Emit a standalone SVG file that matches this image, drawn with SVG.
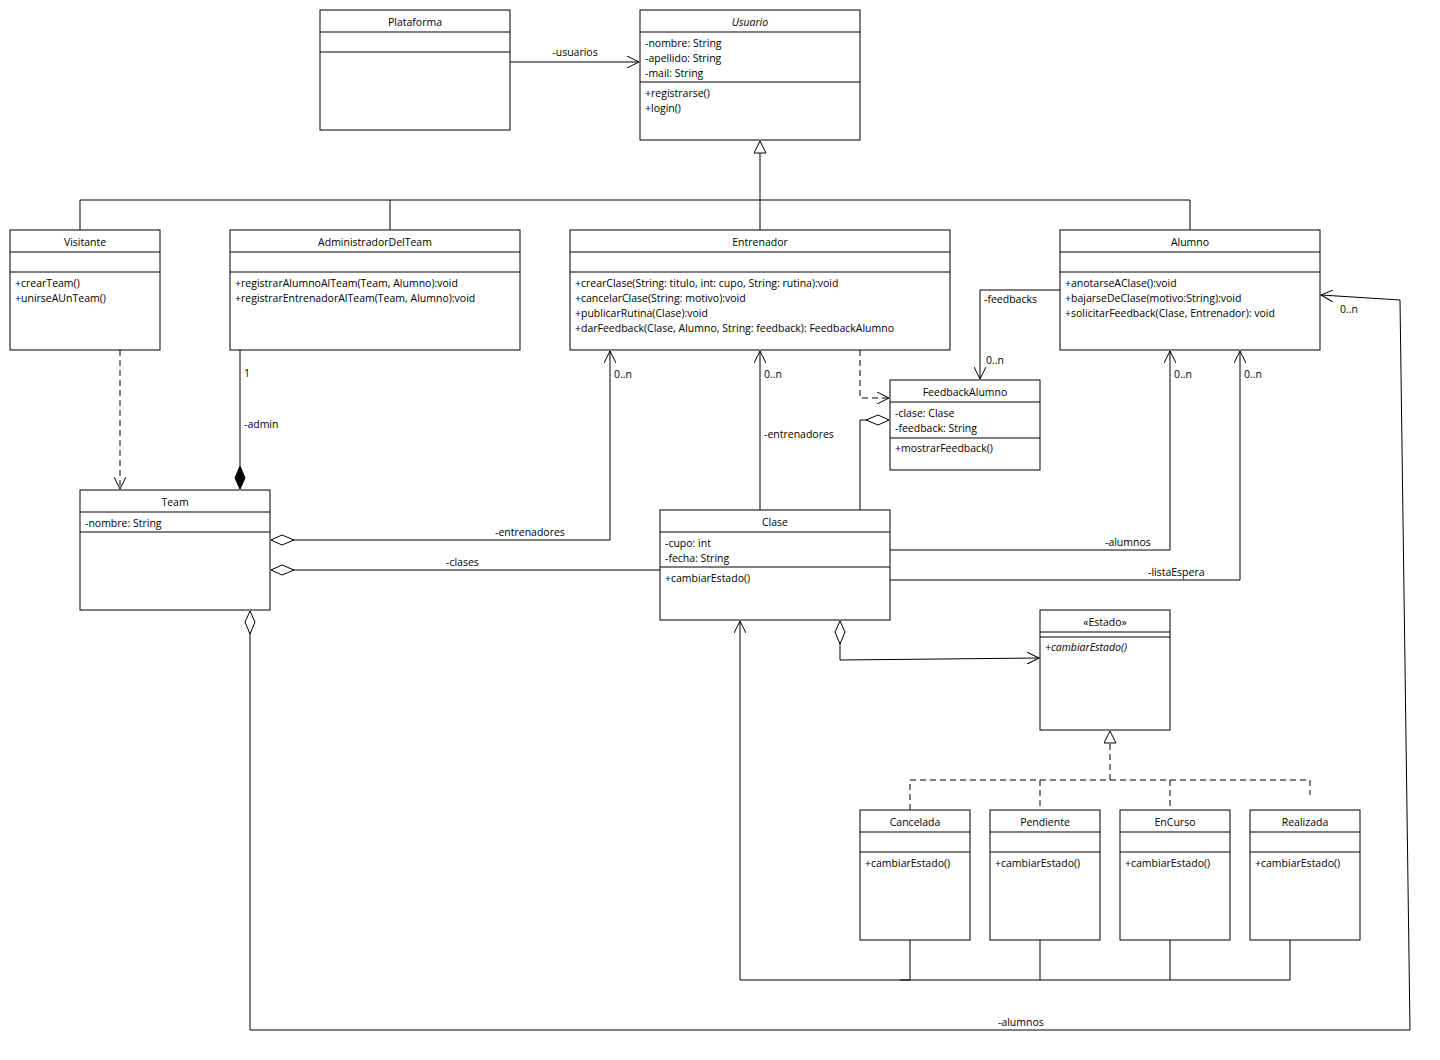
<svg xmlns="http://www.w3.org/2000/svg" width="1440" height="1060" viewBox="0 0 1440 1060">
<style>
.b{fill:#fff;stroke:#000;stroke-width:1}
.l{stroke:#000;stroke-width:1;fill:none}
.d{stroke-dasharray:6,4}
text{font-family:"Open Sans","Noto Sans",sans-serif;font-size:10.5px;fill:#000}
.c{text-anchor:middle}
.i{font-style:italic}
</style>
<defs>
<marker id="oa" markerWidth="14" markerHeight="12" refX="12" refY="6" orient="auto" markerUnits="userSpaceOnUse"><path d="M0,0 L12,6 L0,12" fill="none" stroke="#000"/></marker>
<marker id="tri" markerWidth="16" markerHeight="14" refX="13" refY="6" orient="auto" markerUnits="userSpaceOnUse"><path d="M1,0 L13,6 L1,12 Z" fill="#fff" stroke="#000"/></marker>
<marker id="hd" markerWidth="26" markerHeight="12" refX="1" refY="6" orient="auto" markerUnits="userSpaceOnUse"><path d="M1,6 L12,1 L24,6 L12,11 Z" fill="#fff" stroke="#000"/></marker>
<marker id="fd" markerWidth="26" markerHeight="12" refX="1" refY="6" orient="auto" markerUnits="userSpaceOnUse"><path d="M1,6 L12,1 L24,6 L12,11 Z" fill="#000" stroke="#000"/></marker>
</defs>
<g id="connectors">
<path class="l" d="M510,62 H639" marker-end="url(#oa)"/>
<text x="575" y="56" class="c">-usuarios</text>
<path class="l" d="M80,230 V200 H1190 V230 M390,200 V230 M760,230 V141" marker-end="url(#tri)"/>
<path class="l d" d="M120,350 V489" marker-end="url(#oa)"/>
<path class="l" d="M240,489 V350" marker-start="url(#fd)"/>
<text x="244" y="377">1</text><text x="244" y="428">-admin</text>
<path class="l" d="M271,540 H610 V351" marker-start="url(#hd)" marker-end="url(#oa)"/>
<text x="614" y="378">0..n</text><text x="495" y="536">-entrenadores</text>
<path class="l" d="M271,570 H660" marker-start="url(#hd)"/>
<text x="446" y="566">-clases</text>
<path class="l" d="M760,510 V351" marker-end="url(#oa)"/>
<text x="764" y="378">0..n</text><text x="764" y="438">-entrenadores</text>
<path class="l d" d="M860,350 V398 H889" marker-end="url(#oa)"/>
<path class="l" d="M889,420 H860 V510" marker-start="url(#hd)"/>
<path class="l" d="M1060,290 H980 V379" marker-end="url(#oa)"/>
<text x="984" y="303">-feedbacks</text><text x="986" y="364">0..n</text>
<path class="l" d="M890,550 H1170 V351" marker-end="url(#oa)"/>
<text x="1105" y="546">-alumnos</text><text x="1174" y="378">0..n</text>
<path class="l" d="M890,580 H1240 V351" marker-end="url(#oa)"/>
<text x="1148" y="576">-listaEspera</text><text x="1244" y="378">0..n</text>
<path class="l" d="M840,621 V660 L1039,658" marker-start="url(#hd)" marker-end="url(#oa)"/>
<path class="l d" d="M910,810 V780 H1310 V795 M1040,780 V810 M1170,780 V810 M1110,780 V731" marker-end="url(#tri)"/>
<path class="l" d="M910,940 V980 H740 V621" marker-end="url(#oa)"/>
<path class="l" d="M1040,940 V980 M1170,940 V980 M1290,940 V980 H900"/>
<path class="l" d="M250,611 V1030 H1410 L1400,300 L1321,295" marker-start="url(#hd)" marker-end="url(#oa)"/>
<text x="1340" y="313">0..n</text><text x="998" y="1026">-alumnos</text>
</g>
<g id="Plataforma"><rect class="b" x="320" y="10" width="190" height="120"/><path class="l" d="M320,32 H510 M320,52 H510"/><text x="415" y="26" class="c">Plataforma</text></g>
<g id="Usuario"><rect class="b" x="640" y="10" width="220" height="130"/><path class="l" d="M640,32 H860 M640,82 H860"/><text x="750" y="26" class="c i">Usuario</text>
<text x="645" y="47">-nombre: String</text><text x="645" y="62">-apellido: String</text><text x="645" y="77">-mail: String</text><text x="645" y="97">+registrarse()</text><text x="645" y="112">+login()</text></g>
<g id="Visitante"><rect class="b" x="10" y="230" width="150" height="120"/><path class="l" d="M10,252 H160 M10,272 H160"/><text x="85" y="246" class="c">Visitante</text><text x="15" y="287">+crearTeam()</text><text x="15" y="302">+unirseAUnTeam()</text></g>
<g id="AdministradorDelTeam"><rect class="b" x="230" y="230" width="290" height="120"/><path class="l" d="M230,252 H520 M230,272 H520"/><text x="375" y="246" class="c">AdministradorDelTeam</text><text x="235" y="287">+registrarAlumnoAlTeam(Team, Alumno):void</text><text x="235" y="302">+registrarEntrenadorAlTeam(Team, Alumno):void</text></g>
<g id="Entrenador"><rect class="b" x="570" y="230" width="380" height="120"/><path class="l" d="M570,252 H950 M570,272 H950"/><text x="760" y="246" class="c">Entrenador</text><text x="575" y="287">+crearClase(String: titulo, int: cupo, String: rutina):void</text><text x="575" y="302">+cancelarClase(String: motivo):void</text><text x="575" y="317">+publicarRutina(Clase):void</text><text x="575" y="332">+darFeedback(Clase, Alumno, String: feedback): FeedbackAlumno</text></g>
<g id="Alumno"><rect class="b" x="1060" y="230" width="260" height="120"/><path class="l" d="M1060,252 H1320 M1060,272 H1320"/><text x="1190" y="246" class="c">Alumno</text><text x="1065" y="287">+anotarseAClase():void</text><text x="1065" y="302">+bajarseDeClase(motivo:String):void</text><text x="1065" y="317">+solicitarFeedback(Clase, Entrenador): void</text></g>
<g id="FeedbackAlumno"><rect class="b" x="890" y="380" width="150" height="90"/><path class="l" d="M890,402 H1040 M890,438 H1040"/><text x="965" y="396" class="c">FeedbackAlumno</text><text x="895" y="417">-clase: Clase</text><text x="895" y="432">-feedback: String</text><text x="895" y="452">+mostrarFeedback()</text></g>
<g id="Team"><rect class="b" x="80" y="490" width="190" height="120"/><path class="l" d="M80,512 H270 M80,532 H270"/><text x="175" y="506" class="c">Team</text><text x="85" y="527">-nombre: String</text></g>
<g id="Clase"><rect class="b" x="660" y="510" width="230" height="110"/><path class="l" d="M660,532 H890 M660,567 H890"/><text x="775" y="526" class="c">Clase</text><text x="665" y="547">-cupo: int</text><text x="665" y="562">-fecha: String</text><text x="665" y="582">+cambiarEstado()</text></g>
<g id="Estado"><rect class="b" x="1040" y="610" width="130" height="120"/><path class="l" d="M1040,632 H1170 M1040,637 H1170"/><text x="1105" y="626" class="c">«Estado»</text><text x="1045" y="651" class="i">+cambiarEstado()</text></g>
<g id="Cancelada"><rect class="b" x="860" y="810" width="110" height="130"/><path class="l" d="M860,832 H970 M860,852 H970"/><text x="915" y="826" class="c">Cancelada</text><text x="865" y="867">+cambiarEstado()</text></g>
<g id="Pendiente"><rect class="b" x="990" y="810" width="110" height="130"/><path class="l" d="M990,832 H1100 M990,852 H1100"/><text x="1045" y="826" class="c">Pendiente</text><text x="995" y="867">+cambiarEstado()</text></g>
<g id="EnCurso"><rect class="b" x="1120" y="810" width="110" height="130"/><path class="l" d="M1120,832 H1230 M1120,852 H1230"/><text x="1175" y="826" class="c">EnCurso</text><text x="1125" y="867">+cambiarEstado()</text></g>
<g id="Realizada"><rect class="b" x="1250" y="810" width="110" height="130"/><path class="l" d="M1250,832 H1360 M1250,852 H1360"/><text x="1305" y="826" class="c">Realizada</text><text x="1255" y="867">+cambiarEstado()</text></g>
</svg>
